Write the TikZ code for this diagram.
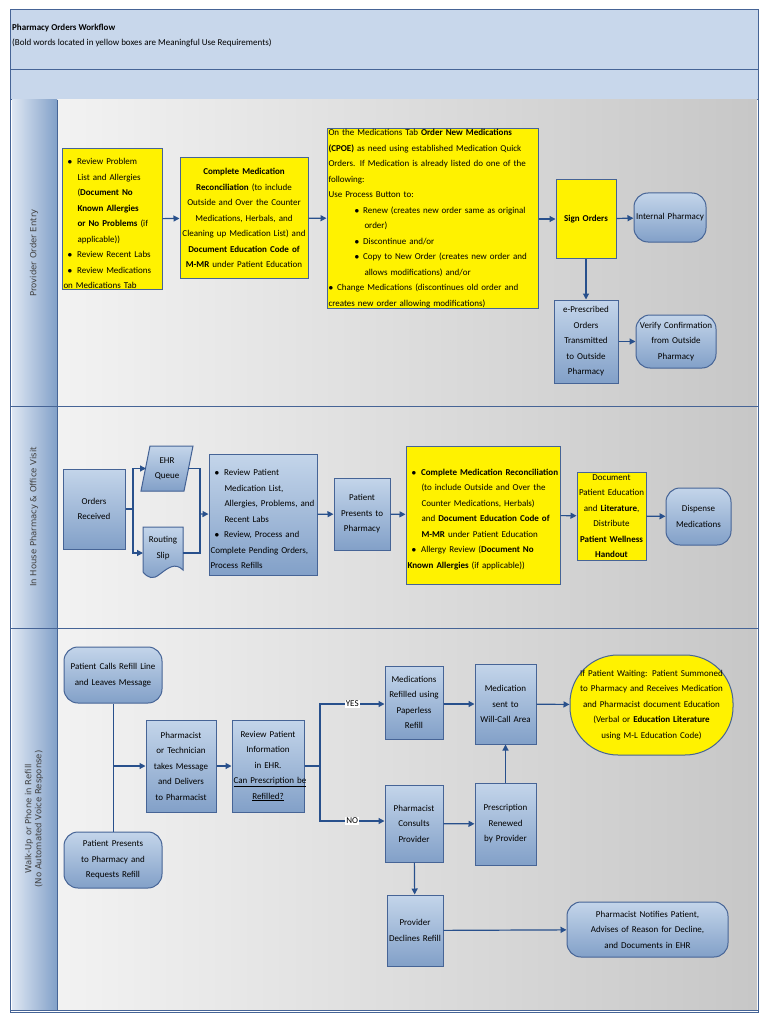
\documentclass[tikz,border=0pt]{standalone}
\usepackage{fontspec}
\setmainfont{Carlito}
\newfontfamily\lanefont{DejaVu Sans}
\usetikzlibrary{shapes.geometric,arrows.meta}
\definecolor{frame}{RGB}{70,100,150}
\definecolor{bluebox}{RGB}{170,195,225}
\definecolor{blueboxd}{RGB}{130,160,200}
\definecolor{arr}{RGB}{40,80,140}
\definecolor{hdr}{RGB}{200,215,235}
\hyphenpenalty=10000
\exhyphenpenalty=10000
\tikzset{
  x=1pt,y=-1pt,
  base/.style={draw=frame,line width=1pt,align=center,inner sep=1pt,font=\fontsize{9}{15.5}\selectfont},
  box/.style={base,top color=bluebox!70,bottom color=blueboxd},
  ybox/.style={base,fill=yellow},
  rbox/.style={box,rounded corners=14pt},
  ar/.style={draw=arr,line width=1.2pt,-{Triangle[length=6pt,width=6pt]}},
  ln/.style={draw=arr,line width=1.2pt},
  lane/.style={font=\lanefont\fontsize{8.5}{10}\selectfont,align=center,rotate=90,text=black!75},
}
\newcommand{\bx}[6]{\node[#1,minimum width=#4,minimum height=#5,text width=#4-3pt] (#2) at (#3) {\hyphenpenalty=10000 #6};}
\newcommand{\itm}{\par\hangindent=14pt\hspace*{4pt}$\bullet$\hspace{5pt}}
\begin{document}
\begin{tikzpicture}
\useasboundingbox (0,0) rectangle (768,1024);
\fill[white] (0,0) rectangle (768,1024);
% frame
\fill[hdr] (10,10) rectangle (758,100);
\draw[frame,line width=1pt] (10,10) rectangle (758,1012);
\draw[frame,line width=1pt] (10,70) -- (758,70) (10,100) -- (758,100);
\node[anchor=north west,align=left,font=\fontsize{9}{15}\selectfont,inner sep=0] (title) at (12,24) {\textbf{Pharmacy Orders Workflow}\\(Bold words located in yellow boxes are Meaningful Use Requirements)};
% content background
\shade[left color=white!95!black,right color=black!22] (57,100) rectangle (757,1010);
\shade[left color=hdr!60,right color=blueboxd] (12,100) rectangle (57,1010);
\draw[frame,line width=1pt] (57,100) -- (57,1010);
\draw[frame,line width=1pt] (10,406) -- (758,406) (10,628) -- (758,628) (10,1010) -- (758,1010);
\node[lane] (l1) at (34,253) {Provider Order Entry};
\node[lane] (l2) at (34,517) {In House Pharmacy \& Office Visit};
\node[lane] (l3) at (34,819) {Walk-Up or Phone in Refill\\(No Automated Voice Response)};
% lane 1
\bx{ybox,align=left}{a1}{112,219}{100}{122}{\itm Review Problem List and Allergies (\textbf{Document No Known Allergies or No Problems} (if applicable))\itm Review Recent Labs\itm Review Medications on Medications Tab}
\bx{ybox}{a2}{244,218}{128}{120}{\textbf{Complete Medication Reconciliation} (to include Outside and Over the Counter Medications, Herbals, and Cleaning up Medication List) and \textbf{Document Education Code of M-MR} under Patient Education}
\bx{ybox,align=left}{a3}{432.5,218.5}{211}{177}{On the Medications Tab \textbf{Order New Medications (CPOE)} as need using established Medication Quick Orders. If Medication is already listed do one of the following:\\Use Process Button to:\par
\leftskip=26pt\hangindent=10pt$\bullet$\hspace{4pt}Renew (creates new order same as original order)\par
\hangindent=10pt$\bullet$\hspace{4pt}Discontinue and/or\par
\hangindent=10pt$\bullet$\hspace{4pt}Copy to New Order (creates new order and allows modifications) and/or\par
\hangindent=10pt$\bullet$\hspace{4pt}Change Medications (discontinues old order and creates new order allowing modifications)}
\bx{ybox}{sign}{586,219}{60}{78}{\textbf{Sign Orders}}
\bx{rbox}{int}{670,217.5}{72}{49}{Internal Pharmacy}
\bx{box}{epres}{586,341.5}{64}{83}{e-Prescribed Orders Transmitted to Outside Pharmacy}
\bx{rbox}{verify}{676,341.5}{80}{53}{Verify Confirmation from Outside Pharmacy}
\draw[ar] (a1) -- (a2);
\draw[ar] (a2) -- (a3);
\draw[ar] (a3.east|-sign) -- (sign);
\draw[ar] (sign) -- (int);
\draw[ar] (sign) -- (epres);
\draw[ar] (epres) -- (verify);
% lane 2
\bx{box}{ord}{94,509}{62}{80}{Orders Received}
\filldraw[frame,line width=1pt,top color=bluebox!70,bottom color=blueboxd] (150,446) -- (193,446) -- (184,491) -- (141,491) -- cycle;
\node[align=center,font=\fontsize{9}{15.5}\selectfont,minimum width=44pt,minimum height=45pt,inner sep=0] (ehr) at (167,468.5) {EHR\\Queue};
\filldraw[frame,line width=1pt,top color=bluebox!70,bottom color=blueboxd] (143,527) -- (183,527) -- (183,570) .. controls (175,562) and (168,568) .. (160,574) .. controls (153,580) and (148,578) .. (143,572) -- cycle;
\node[align=center,font=\fontsize{9}{15.5}\selectfont,minimum width=40pt,minimum height=44pt,inner sep=0] (rout) at (163,548) {Routing\\Slip};
\bx{box,align=left}{rev}{263,514.5}{108}{121}{\itm Review Patient Medication List, Allergies, Problems, and Recent Labs\itm Review, Process and Complete Pending Orders, Process Refills}
\bx{box}{pp}{362,514}{56}{72}{Patient Presents to Pharmacy}
\bx{ybox,align=left}{y2}{483,515}{154}{138}{\itm \textbf{Complete Medication Reconciliation} (to include Outside and Over the Counter Medications, Herbals) and \textbf{Document Education Code of M-MR} under Patient Education\itm Allergy Review (\textbf{Document No Known Allergies} (if applicable))}
\bx{ybox}{doc}{611.5,516}{69}{88}{Document Patient Education and \textbf{Literature}, Distribute \textbf{Patient Wellness Handout}}
\bx{rbox}{disp}{698.5,516.5}{65}{57}{Dispense Medications}
\coordinate (j1) at (133,509);
\coordinate (j2) at (200,514);
\draw[ln] (ord) -- (j1);
\draw[ar] (j1) |- (146,468.5);
\draw[ar] (j1) |- (143,553);
\draw[ln] (188,468.5) -| (j2);
\draw[ln] (183,553) -| (j2);
\draw[ar] (j2) -- (rev);
\draw[ar] (rev) -- (pp);
\draw[ar] (pp) -- (y2);
\draw[ar] (y2) -- (doc);
\draw[ar] (doc) -- (disp);
% lane 3
\bx{rbox}{calls}{113,675}{98}{56}{Patient Calls Refill Line and Leaves Message}
\bx{rbox}{pres}{113,860}{98}{56}{Patient Presents to Pharmacy and Requests Refill}
\bx{box}{tech}{181,766}{70}{92}{Pharmacist or Technician takes Message and Delivers to Pharmacist}
\bx{box}{info}{268,766}{72}{92}{Review Patient Information in EHR. \underline{Can Prescription be} \underline{Refilled?}}
\bx{box}{mref}{414,702.5}{58}{73}{Medications Refilled using Paperless Refill}
\bx{box}{msent}{505.5,704}{61}{80}{Medication sent to Will-Call Area}
\bx{ybox,rounded corners=48pt}{wait}{651.5,705}{163}{100}{If Patient Waiting: Patient Summoned to Pharmacy and Receives Medication and Pharmacist document Education (Verbal or \textbf{Education Literature} using M-L Education Code)}
\bx{box}{cons}{414,823.5}{58}{77}{Pharmacist Consults Provider}
\bx{box}{renew}{505.5,824}{61}{82}{Prescription Renewed by Provider}
\bx{box}{decl}{415,930.5}{56}{71}{Provider Declines Refill}
\bx{rbox}{notif}{647.5,929.5}{161}{55}{Pharmacist Notifies Patient, Advises of Reason for Decline, and Documents in EHR}
\coordinate (j3) at (113,766);
\coordinate (j4) at (320,766);
\draw[ln,line width=0.8pt] (calls) -- (pres);
\draw[ar] (j3) -- (tech);
\draw[ar] (tech) -- (info);
\draw[ln,line width=2pt] (info) -- (j4);
\draw[ar] (j4) |- node[pos=0.75,fill=white,inner sep=1pt,font=\fontsize{9}{10}\selectfont] {YES} (mref.west|-320,704);
\draw[ar] (j4) |- node[pos=0.75,fill=white,inner sep=1pt,font=\fontsize{9}{10}\selectfont] {NO} (cons.west|-320,821);
\draw[ar] (mref.east|-320,704) -- (msent.west|-320,704);
\draw[ar] (msent) -- (wait);
\draw[ar] (cons) -- (renew);
\draw[ar] (renew) -- (msent);
\draw[ar] (cons) -- (decl);
\draw[ar] (decl) -- (notif);
\end{tikzpicture}
\end{document}
